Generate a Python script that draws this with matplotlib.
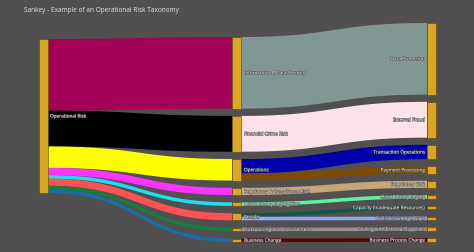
import numpy as np
import matplotlib.pyplot as plt
from matplotlib import patheffects as pe

plt.rcParams['font.family'] = ['Open Sans', 'DejaVu Sans']

# Nodes, one list per column
col0 = ["Operational Risk"]
col1 = ["Information & Data Security", "Financial Crime Risk", "Operations",
        "Regulatory & Compliance Risk", "Client Money Segregation", "People",
        "Outsourcing and Procurement", "Business Change"]
col2 = ["Data Protection", "External Fraud", "Transaction Operations",
        "Payment Processing", "Regulatory Risk", "Client Money Segreg",
        "Capacity (Inadequate Resources)", "Skills/Knowledge Gaps",
        "Dealing with External Suppliers", "Business Process Change"]

# Links Operational Risk -> level 1 (one per col1 node)
values1 = [20, 10, 6, 2, 1, 2, 1, 1]
colors1 = ["#a30058", "#000000", "#ffff00", "#ff33ff", "#22dcef",
           "#ff5252", "#14803e", "#1a6ea6"]

# Links level 1 -> level 2
src2 = [0, 1, 2, 2, 3, 4, 5, 5, 6, 7]
values2 = [20, 10, 4, 2, 2, 1, 1, 1, 1, 1]
colors2 = ["#7f9893", "#ffe1ea", "#0000a8", "#7c4c04", "#c6a679",
           "#5ef0a0", "#0c5746", "#8fa7f7", "#9f8d90", "#5e0000"]

bg = "#514f4f"
node_col = "#daa520"

# layout (pixels)
W, H = 474, 253
col_x = [39, 232, 427]
node_w = 9
col_top = [40, 38, 24]
col_pad = [0, 7.3, 7.2]
scale = 154 / sum(values1)

fig = plt.figure(figsize=(W / 100, H / 100), dpi=100, facecolor=bg)
ax = fig.add_axes([0, 0, 1, 1])
ax.set_facecolor(bg)
ax.set_xlim(0, W)
ax.set_ylim(H, 0)
ax.axis('off')


def stack(sizes, top, pad):
    ys = []
    y = top
    for s in sizes:
        ys.append(y)
        y += s * scale + pad
    return ys


size1 = values1
size2 = values2
y0 = stack([sum(values1)], col_top[0], col_pad[0])
y1 = stack(size1, col_top[1], col_pad[1])
y2 = stack(size2, col_top[2], col_pad[2])


def band(xa, xb, ya, yb, h, color):
    t = np.linspace(0, 1, 80)
    xm = (xa + xb) / 2
    x = xa * (1 - t)**3 + 3 * xm * (1 - t) * t + xb * t**3
    s = 3 * t**2 - 2 * t**3
    top = ya + (yb - ya) * s
    bot = top + h
    ax.fill(np.concatenate([x, x[::-1]]), np.concatenate([top, bot[::-1]]),
            color=color, lw=0, zorder=1)


# links level 0 -> 1
off = y0[0]
for i, v in enumerate(values1):
    h = v * scale
    band(col_x[0] + node_w, col_x[1], off, y1[i], h, colors1[i])
    off += h

# links level 1 -> 2
out_off = list(y1)
for j, (s, v) in enumerate(zip(src2, values2)):
    h = v * scale
    band(col_x[1] + node_w, col_x[2], out_off[s], y2[j], h, colors2[j])
    out_off[s] += h

# nodes
def node(x, y, v):
    ax.add_patch(plt.Rectangle((x, y), node_w, v * scale, facecolor=node_col,
                               edgecolor="#5a4410", lw=0.4, zorder=2))

node(col_x[0], y0[0], sum(values1))
for y, v in zip(y1, size1):
    node(col_x[1], y, v)
for y, v in zip(y2, size2):
    node(col_x[2], y, v)

fx = [pe.withStroke(linewidth=0.6, foreground="#3a3a3a", alpha=0.8)]
fs = 3.4
ax.text(col_x[0] + node_w + 2, y0[0] + sum(values1) * scale / 2, col0[0],
        color="white", fontsize=fs, va="center", ha="left", path_effects=fx, zorder=3)
for name, y, v in zip(col1, y1, size1):
    ax.text(col_x[1] + node_w + 3, y + v * scale / 2, name, color="white",
            fontsize=fs, va="center", ha="left", path_effects=fx, zorder=3)
for name, y, v in zip(col2, y2, size2):
    ax.text(col_x[2] - 2, y + v * scale / 2, name, color="white",
            fontsize=fs, va="center", ha="right", path_effects=fx, zorder=3)

ax.text(24, 10, "Sankey - Example of an Operational Risk Taxonomy",
        color="#e6e6e6", fontsize=4.7, va="center", ha="left")

fig.savefig("out.png", dpi=100, facecolor=bg)
